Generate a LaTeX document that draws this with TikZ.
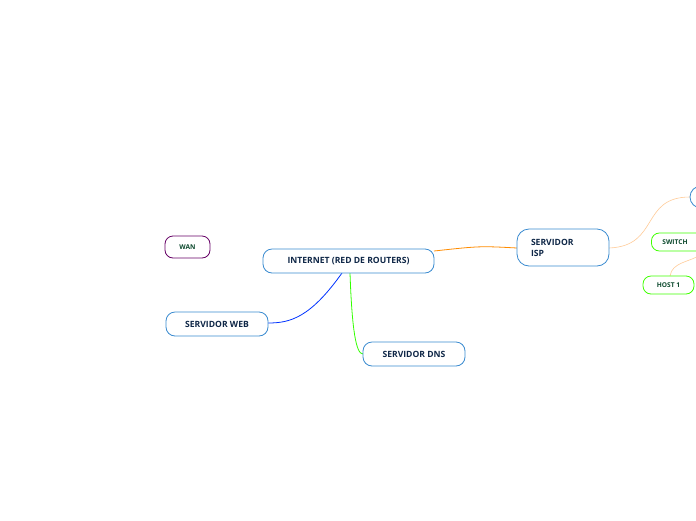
\documentclass[tikz,border=0pt]{standalone}
\usepackage{fontspec}
\setmainfont{Open Sans}
\definecolor{bl}{HTML}{3A8BD0}
\definecolor{tx}{HTML}{0F2747}
\definecolor{gt}{HTML}{0D4A2E}
\tikzset{
 box/.style={draw=bl,line width=0.8pt,rounded corners=9pt,fill=white,inner sep=0pt,font=\fontsize{8.6}{11}\selectfont\bfseries,text=tx},
 sbox/.style={draw=#1,line width=0.8pt,rounded corners=8pt,fill=white,inner sep=0pt,font=\fontsize{6.6}{8}\selectfont\bfseries,text=gt},
 con/.style={line width=0.8pt}
}
\begin{document}
\begin{tikzpicture}[x=1pt,y=-1pt]
\useasboundingbox (0,0) rectangle (696,520);
\clip (0,0) rectangle (696,520);
\fill[white] (0,0) rectangle (696,520);
% connectors
\draw[con,draw=orange!90!yellow] (434,251) .. controls (480,246) .. (517,248);
\draw[con,draw=blue!80!cyan] (342,273) .. controls (310,318) and (290,323) .. (268,323);
\draw[con,draw=green!80!yellow] (350,273) .. controls (352,330) and (356,354) .. (363,354);
\draw[con,draw=orange!40,line width=0.6pt] (609,248) .. controls (660,246) and (640,197) .. (690,197);
\draw[con,draw=orange!40,line width=0.6pt] (670,276) .. controls (672,262) and (690,262) .. (700,255);
% nodes
\node[sbox=violet!80!black,minimum width=45pt,minimum height=22pt] (wan) at (187.5,247) {WAN};
\node[box,minimum width=171pt,minimum height=24pt] (inet) at (348.5,261) {INTERNET (RED DE ROUTERS)};
\node[box,minimum width=92pt,minimum height=37pt,rounded corners=12pt,align=left,text width=64pt] (isp) at (563,247.5) {SERVIDOR\\ISP};
\node[box,minimum width=102pt,minimum height=24pt] (web) at (217,324) {SERVIDOR WEB};
\node[box,minimum width=102pt,minimum height=24pt] (dns) at (414,354) {SERVIDOR DNS};
\node[box,minimum width=70pt,minimum height=22pt,rounded corners=11pt] (top) at (725,197) {};
\node[sbox=green!75!yellow,minimum height=18pt,anchor=west,inner xsep=11pt,text width=50pt,align=left] (sw) at (651,242) {SWITCH};
\node[sbox=green!75!yellow,minimum width=51pt,minimum height=18pt] (h1) at (668.5,285) {HOST 1};
\end{tikzpicture}
\end{document}
